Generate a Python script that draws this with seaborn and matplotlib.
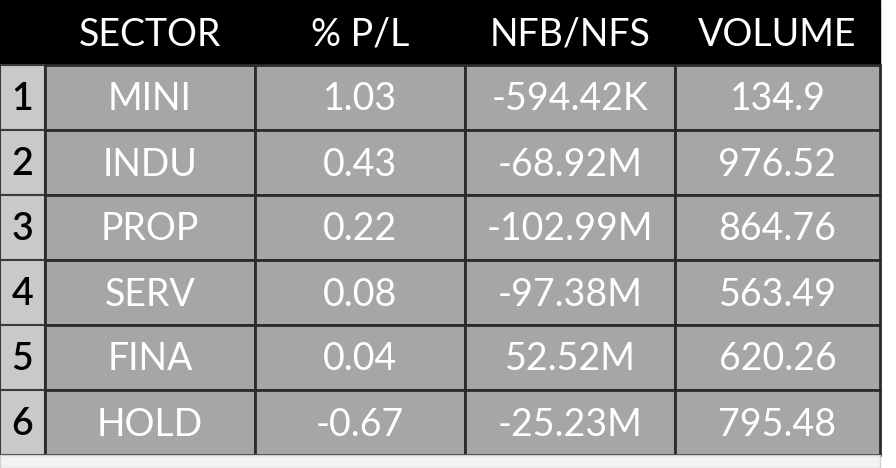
import matplotlib
matplotlib.use("Agg")
import matplotlib.pyplot as plt
import seaborn as sns
from matplotlib.patches import Rectangle

sns.set_theme(style="white")
plt.rcParams['font.family'] = ['Lato', 'DejaVu Sans']

headers = ['SECTOR', '% P/L', 'NFB/NFS', 'VOLUME']
sectors = ['MINI', 'INDU', 'PROP', 'SERV', 'FINA', 'HOLD']
pl = ['1.03', '0.43', '0.22', '0.08', '0.04', '-0.67']
nfb = ['-594.42K', '-68.92M', '-102.99M', '-97.38M', '52.52M', '-25.23M']
volume = ['134.9', '976.52', '864.76', '563.49', '620.26', '795.48']

col_edges = [0, 45, 255, 465, 675, 880]
row_h = 65
fs = 27

fig = plt.figure(figsize=(8.96, 4.68), dpi=100)
ax = fig.add_axes([0, 0, 1, 1])
ax.set_xlim(0, 896)
ax.set_ylim(468, 0)
ax.axis('off')

# header
ax.add_patch(Rectangle((0, 0), col_edges[-1], row_h, color='black'))
for j, h in enumerate(headers):
    x = (col_edges[j + 1] + col_edges[j + 2]) / 2
    ax.text(x, row_h / 2 + 2, h, color='white', fontsize=fs, ha='center', va='center')

columns = [sectors, pl, nfb, volume]
for i in range(len(sectors)):
    y0 = row_h * (i + 1)
    ax.add_patch(Rectangle((0, y0), col_edges[1], row_h, facecolor='#c9c9c9',
                           edgecolor='#3a3a3a', lw=1.5))
    ax.text(col_edges[1] / 2, y0 + row_h / 2 + 2, str(i + 1), color='black',
            fontsize=fs, ha='center', va='center', fontweight='semibold')
    for j, col in enumerate(columns):
        x0, x1 = col_edges[j + 1], col_edges[j + 2]
        ax.add_patch(Rectangle((x0, y0), x1 - x0, row_h, facecolor='#a6a6a6',
                               edgecolor='#2b2b2b', lw=2))
        ax.text((x0 + x1) / 2, y0 + row_h / 2 + 2, col[i], color='white',
                fontsize=fs, ha='center', va='center')

# faint bottom strip
y_end = row_h * (len(sectors) + 1)
ax.add_patch(Rectangle((0, y_end), col_edges[-1], 468 - y_end, facecolor='#f2f2f2',
                       edgecolor='#d0d0d0', lw=1))

fig.savefig('out.png', dpi=100)
